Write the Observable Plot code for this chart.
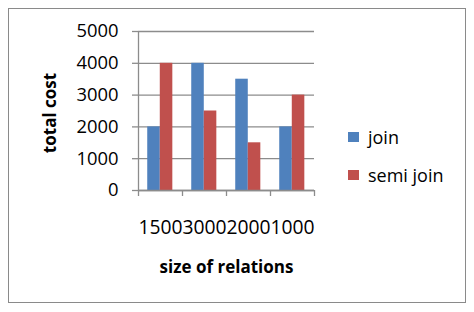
<!DOCTYPE html>
<html>
<head>
<meta charset="utf-8">
<script src="https://cdn.jsdelivr.net/npm/d3@7"></script>
<script src="https://cdn.jsdelivr.net/npm/@observablehq/plot@0.6"></script>
<style>
  html, body { margin: 0; padding: 0; background: #fff; }
  #wrap { position: relative; width: 474px; height: 312px; overflow: hidden; font-family: "Open Sans", sans-serif; }
  #frame { position: absolute; left: 8px; top: 8px; width: 458px; height: 295px; border: 1.5px solid #8a8a8a; box-sizing: border-box; }
  #chart { position: absolute; left: 0; top: 0; }
  .legend { position: absolute; left: 348px; font-size: 18px; color: #000; }
  .legend .row { position: absolute; left: 0; white-space: nowrap; display: flex; align-items: center; }
  .legend .sw { display: inline-block; width: 11px; height: 10px; margin-right: 9px; }
</style>
</head>
<body>
<div id="wrap">
  <div id="frame"></div>
  <div id="chart"></div>
  <div class="legend" id="legend"></div>
</div>
<script>
const sizes = ["1500", "3000", "2000", "1000"];
const joinCost = [2000, 4000, 3500, 2000];
const semiJoinCost = [4000, 2500, 1500, 3000];
const seriesNames = ["join", "semi join"];
const seriesColors = ["#4F81BD", "#C0504D"];
const yTicks = [0, 1000, 2000, 3000, 4000, 5000];

// bar layout within each category slot (fraction of slot)
const barStart = 0.21, barWidth = 0.285;

const rows = [];
sizes.forEach((s, i) => {
  rows.push({i, size: s, series: "join", value: joinCost[i], k: 0});
  rows.push({i, size: s, series: "semi join", value: semiJoinCost[i], k: 1});
});

const font = "Open Sans, sans-serif";
const chart = Plot.plot({
  width: 474,
  height: 312,
  marginLeft: 138,
  marginRight: 160,
  marginTop: 31,
  marginBottom: 122,
  style: {fontFamily: font, fontSize: "18px", color: "#000", background: "transparent"},
  x: {type: "linear", domain: [0, sizes.length]},
  y: {domain: [0, 5000]},
  color: {domain: seriesNames, range: seriesColors},
  marks: [
    Plot.gridY(yTicks, {stroke: "#8c8c8c", strokeOpacity: 1, strokeWidth: 1.3}),
    Plot.axisY(yTicks, {tickSize: 6, tickPadding: 14, stroke: "#8c8c8c", strokeWidth: 1.3, label: null, tickFormat: d => String(d), fontSize: 18.4}),
    Plot.axisX(d3.range(sizes.length + 1), {tickSize: 6, tickFormat: () => "", stroke: "#8c8c8c", strokeWidth: 1.3, label: null}),
    Plot.axisX(d3.range(sizes.length).map(i => i + 0.5), {tickSize: 0, tickPadding: 30, tickFormat: d => sizes[Math.floor(d)], label: null, fontSize: 19.3}),
    Plot.rectY(rows, {
      x1: d => d.i + barStart + d.k * barWidth,
      x2: d => d.i + barStart + (d.k + 1) * barWidth,
      y: "value",
      fill: "series"
    }),
    Plot.ruleX([0], {stroke: "#8c8c8c", strokeWidth: 1.3}),
    Plot.ruleY([0], {stroke: "#8c8c8c", strokeWidth: 1.3}),
    Plot.text(["size of relations"], {frameAnchor: "bottom", lineAnchor: "middle", textAnchor: "middle", dy: 77, fontWeight: "bold", fontSize: 17, fill: "#000"}),
    Plot.text(["total cost"], {frameAnchor: "left", textAnchor: "middle", lineAnchor: "middle", dx: -88, dy: 2, rotate: -90, fontWeight: "bold", fontSize: 17, fill: "#000"})
  ]
});
document.getElementById("chart").appendChild(chart);

const legend = document.getElementById("legend");
const legendTops = [125, 163];
seriesNames.forEach((name, j) => {
  const row = document.createElement("div");
  row.className = "row";
  row.style.top = legendTops[j] + "px";
  row.innerHTML = `<span class="sw" style="background:${seriesColors[j]}"></span><span>${name}</span>`;
  legend.appendChild(row);
});
</script>
</body>
</html>
